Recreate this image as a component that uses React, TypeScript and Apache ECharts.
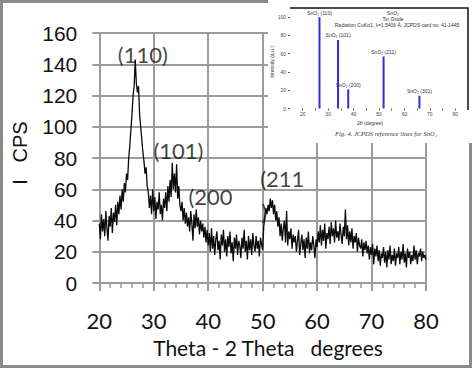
import React, { useEffect, useRef } from "react";
import * as echarts from "echarts";

// Scan: 2θ from 20° to 80°, step 0.2°
const SCAN_START = 20;
const SCAN_STEP = 0.2;
const intensity: number[] = [
  38, 28, 44, 33, 41, 30, 46, 35, 27, 43,
  36, 48, 32, 45, 39, 50, 37, 52, 44, 56,
  47, 60, 52, 64, 58, 70, 66, 80, 88, 98,
  108, 120, 126, 143, 128, 122, 126, 108, 100, 92,
  84, 78, 70, 74, 62, 58, 48, 56, 44, 60,
  46, 55, 41, 52, 47, 58, 44, 50, 40, 54,
  48, 58, 46, 62, 52, 66, 55, 77, 60, 70,
  58, 76, 54, 62, 50, 46, 52, 40, 48, 38,
  45, 36, 42, 33, 46, 38, 27, 44, 35, 47,
  36, 42, 31, 40, 33, 38, 29, 36, 26, 34,
  24, 32, 20, 35, 22, 30, 18, 28, 33, 21,
  27, 15, 31, 24, 34, 20, 28, 17, 30, 23,
  33, 19, 26, 14, 29, 22, 31, 18, 27, 24,
  16, 29, 22, 34, 20, 27, 15, 30, 21, 28,
  18, 32, 24, 20, 30, 22, 27, 17, 29, 25,
  21, 36, 42, 48, 44, 50, 46, 54, 48, 53,
  44, 50, 40, 46, 36, 42, 30, 38, 27, 35,
  40, 26, 46, 24, 33, 28, 35, 22, 31, 26,
  30, 20, 27, 34, 18, 25, 31, 21, 28, 16,
  29, 22, 33, 19, 26, 21, 30, 24, 16, 28,
  23, 33, 26, 37, 24, 34, 27, 38, 22, 32,
  28, 36, 25, 39, 30, 35, 26, 40, 29, 33,
  27, 38, 31, 25, 36, 30, 47, 28, 37, 24,
  33, 26, 35, 22, 30, 26, 32, 20, 29, 24,
  22, 28, 17, 26, 21, 27, 19, 24, 15, 23,
  18, 25, 12, 22, 17, 24, 14, 21, 11, 19,
  16, 23, 13, 20, 10, 21, 15, 24, 12, 18,
  14, 22, 11, 19, 16, 23, 12, 20, 15, 25,
  13, 19, 10, 22, 16, 20, 12, 18, 14, 24,
  15, 21, 12, 19, 17, 22, 14, 20, 16, 18,
  15,
];

// Main axes
const xTicks = [20, 30, 40, 50, 60, 70, 80];
const yTicks = [0, 20, 40, 60, 80, 100, 120, 140, 160];

// Reflection labels placed on the pattern: [2θ, I, text]
const peakLabelX = [28.0, 34.53, 40.42, 53.6, 50.3];
const peakLabelY = [146, 85, 55.4, 67, 46];
const peakLabelText = ["(110)", "(101)", "(200", "(211", ")"];

// JCPDS reference lines for SnO2 (inset)
const refAngles = [26.6, 33.9, 37.9, 51.8, 65.9];
const refIntensity = [100, 75, 21, 57, 14];
const refLabels = ["SnO\u2082 (110)", "SnO\u2082 (101)", "SnO\u2082 (200)", "SnO\u2082 (211)", "SnO\u2082 (301)"];
const refXLabels = [20, 30, 40, 50, 60, 70, 80];
const refXTicks = [20, 25, 30, 35, 40, 45, 50, 55, 60, 65, 70, 75, 80];

const GRID_GREY = "#9c9c9c";

export default function App() {
  const ref = useRef<HTMLDivElement>(null);

  useEffect(() => {
    if (!ref.current) return;
    const chart = echarts.init(ref.current, null, { renderer: "svg" });

    const pattern = intensity.map((v, i) => [
      +(SCAN_START + i * SCAN_STEP).toFixed(2),
      v,
    ]);
    const peakLabels = peakLabelX.map((x, i) => [x, peakLabelY[i], peakLabelText[i]]);
    const refBars = refAngles.map((a, i) => [a, refIntensity[i]]);

    chart.setOption({
      animation: false,
      backgroundColor: "#ffffff",
      grid: [
        { left: 99.3, right: 48, top: 33, bottom: 85 },
        { left: 290, right: 6, top: 8, bottom: 259.5 },
      ],
      xAxis: [
        {
          type: "value",
          gridIndex: 0,
          min: xTicks[0],
          max: xTicks[xTicks.length - 1],
          interval: 10,
          axisLine: { show: true, lineStyle: { color: GRID_GREY, width: 2 } },
          axisTick: { show: true, length: 8, lineStyle: { color: GRID_GREY, width: 2 } },
          minorTick: { show: true, splitNumber: 5, length: 5, lineStyle: { color: GRID_GREY, width: 1.5 } },
          splitLine: { show: true, lineStyle: { color: GRID_GREY, width: 2 } },
          axisLabel: {
            margin: 26,
            fontFamily: "Lato",
            fontSize: 22,
            color: "#111",
          },
        },
        {
          type: "value",
          gridIndex: 1,
          min: 15,
          max: 85,
          z: 10,
          axisLine: { show: false },
          axisTick: {
            show: true,
            length: 2,
            customValues: refXTicks,
            lineStyle: { color: "#333", width: 0.8 },
          },
          splitLine: { show: false },
          axisLabel: {
            customValues: refXLabels,
            margin: 3,
            fontFamily: "Liberation Sans",
            fontSize: 5,
            color: "#444",
          },
        },
      ],
      yAxis: [
        {
          type: "value",
          gridIndex: 0,
          min: yTicks[0],
          max: yTicks[yTicks.length - 1],
          interval: 20,
          axisLine: { show: true, lineStyle: { color: GRID_GREY, width: 2 } },
          axisTick: { show: true, length: 7, lineStyle: { color: GRID_GREY, width: 2 } },
          splitLine: { show: true, lineStyle: { color: GRID_GREY, width: 2 } },
          axisLabel: {
            margin: 22,
            fontFamily: "Liberation Sans",
            fontSize: 21,
            color: "#111",
          },
        },
        {
          type: "value",
          gridIndex: 1,
          min: 0,
          max: 110,
          interval: 20,
          z: 10,
          axisLine: { show: false },
          axisTick: { show: true, length: 2, lineStyle: { color: "#333", width: 0.8 } },
          splitLine: { show: false },
          axisLabel: {
            showMaxLabel: false,
            margin: 4,
            fontFamily: "Liberation Sans",
            fontSize: 5,
            color: "#444",
          },
        },
      ],
      series: [
        {
          type: "line",
          xAxisIndex: 0,
          yAxisIndex: 0,
          data: pattern,
          showSymbol: false,
          z: 2,
          lineStyle: { color: "#0a0a0a", width: 1.3 },
        },
        {
          type: "scatter",
          xAxisIndex: 0,
          yAxisIndex: 0,
          data: peakLabels,
          symbolSize: 0,
          z: 3,
          label: {
            show: true,
            position: "inside",
            formatter: (p: any) => p.data[2],
            fontFamily: "Lato",
            fontSize: 22,
            color: "#111",
          },
        },
        {
          type: "bar",
          xAxisIndex: 1,
          yAxisIndex: 1,
          data: refBars,
          barWidth: 2,
          z: 10,
          itemStyle: { color: "#2f2fd8" },
          label: {
            show: true,
            position: "top",
            distance: 2,
            formatter: (p: any) => refLabels[p.dataIndex],
            fontFamily: "Liberation Sans",
            fontSize: 5,
            color: "#333",
          },
        },
      ],
      graphic: {
        elements: [
          {
            type: "rect",
            z: 4,
            shape: { x: 1.5, y: 1.5, width: 469, height: 365 },
            style: { fill: "none", stroke: "#8a8a8a", lineWidth: 3 },
          },
          {
            type: "rect",
            z: 5,
            shape: { x: 268, y: 0, width: 206, height: 143 },
            style: { fill: "#ffffff" },
          },
          {
            type: "polyline",
            z: 11,
            shape: { points: [[290, 8], [468, 8], [468, 110]] },
            style: { stroke: "#111", lineWidth: 1.5, fill: "none" },
          },
          {
            type: "text",
            z: 11,
            x: 393,
            y: 13,
            style: {
              text: "SnO\u2082",
              font: "5px 'Liberation Sans'",
              fill: "#333",
              textAlign: "center",
              textVerticalAlign: "middle",
            },
          },
          {
            type: "text",
            z: 11,
            x: 393,
            y: 19,
            style: {
              text: "Tin Oxide",
              font: "5px 'Liberation Sans'",
              fill: "#333",
              textAlign: "center",
              textVerticalAlign: "middle",
            },
          },
          {
            type: "text",
            z: 11,
            x: 397,
            y: 24.5,
            style: {
              text: "Radiation CuK\u03b11, \u03bb=1.5406 \u00c5, JCPDS card no. 41-1445",
              font: "5px 'Liberation Sans'",
              fill: "#333",
              textAlign: "center",
              textVerticalAlign: "middle",
            },
          },
          {
            type: "text",
            z: 11,
            x: 370,
            y: 123,
            style: {
              text: "2\u03b8 (degree)",
              font: "5px 'Liberation Sans'",
              fill: "#333",
              textAlign: "center",
              textVerticalAlign: "middle",
            },
          },
          {
            type: "text",
            z: 11,
            x: 272,
            y: 62,
            rotation: Math.PI / 2,
            style: {
              text: "Intensity (a.u.)",
              font: "5px 'Liberation Sans'",
              fill: "#333",
              textAlign: "center",
              textVerticalAlign: "middle",
            },
          },
          {
            type: "text",
            z: 11,
            x: 386,
            y: 133,
            style: {
              text: "Fig. 4. JCPDS reference lines for SnO\u2082",
              font: "italic 6.5px 'Liberation Serif'",
              fill: "#333",
              textAlign: "center",
              textVerticalAlign: "middle",
            },
          },
          {
            type: "text",
            z: 6,
            x: 20,
            y: 153,
            rotation: Math.PI / 2,
            style: {
              text: "I   CPS",
              font: "20px 'Liberation Sans'",
              fill: "#111",
              textAlign: "center",
              textVerticalAlign: "middle",
            },
          },
          {
            type: "text",
            z: 6,
            x: 268,
            y: 347,
            style: {
              text: "Theta - 2 Theta   degrees",
              font: "21px Lato",
              fill: "#111",
              textAlign: "center",
              textVerticalAlign: "middle",
            },
          },
        ],
      },
    });

    return () => chart.dispose();
  }, []);

  return (
    <div
      ref={ref}
      style={{ position: "fixed", left: 0, top: 0, width: 474, height: 368 }}
    />
  );
}
